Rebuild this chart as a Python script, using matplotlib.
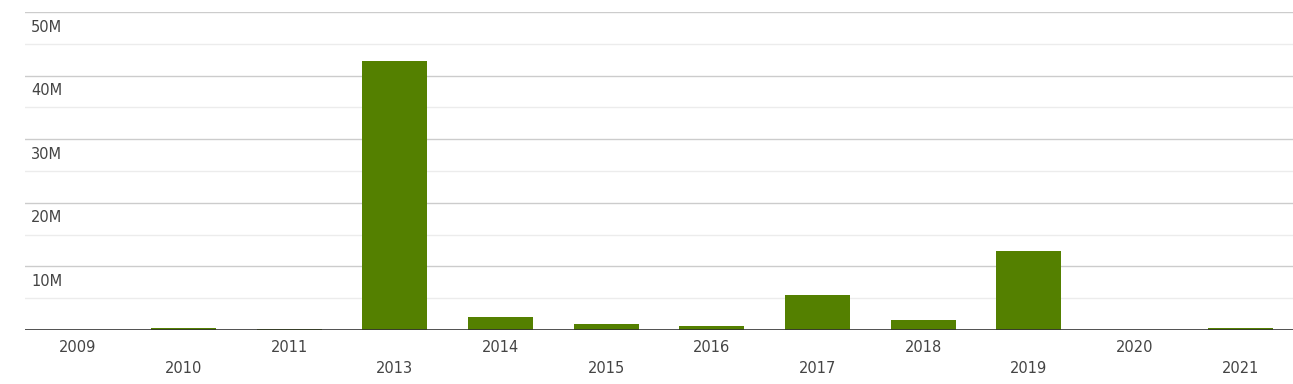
import matplotlib
matplotlib.use("Agg")
import matplotlib.pyplot as plt
import matplotlib.transforms as mtransforms

# Dados (valores em milhões)
anos = ["2009", "2010", "2011", "2013", "2014", "2015", "2016",
        "2017", "2018", "2019", "2020", "2021"]
valores = [0.0, 0.3, 0.12, 42.3, 2.0, 0.95, 0.65, 5.5, 1.55, 12.4, 0.0, 0.33]
ticks_y = [10, 20, 30, 40, 50]
labels_y = ["10M", "20M", "30M", "40M", "50M"]

COR_BARRA = "#548000"
COR_TEXTO = "#444444"

W, H = 1293, 384
fig = plt.figure(figsize=(W / 100, H / 100), dpi=100)
ax = fig.add_axes([25 / W, (H - 330) / H, (W - 25) / W, 318 / H])

x = list(range(len(anos)))
ax.bar(x, valores, width=0.615, color=COR_BARRA, zorder=3)

ax.set_xlim(-0.5, len(anos) - 0.5)
ax.set_ylim(0, 50)

# Grade: linhas principais a cada 10M, secundárias a cada 5M
for v in range(5, 51, 5):
    cor = "#cccccc" if v % 10 == 0 else "#ececec"
    ax.axhline(v, color=cor, linewidth=1, zorder=1)
ax.axhline(0, color="#333333", linewidth=1.2, zorder=4)

for s in ax.spines.values():
    s.set_visible(False)
ax.set_xticks([])
ax.set_yticks([])

# Rótulos do eixo y dentro da área do gráfico
trans_y = mtransforms.blended_transform_factory(ax.transAxes, ax.transData)
for v, lab in zip(ticks_y, labels_y):
    ax.text(6 / (W - 25), v - 1.2, lab, transform=trans_y, ha="left", va="top",
            fontsize=10.5, color=COR_TEXTO)

# Rótulos do eixo x alternados em duas linhas
trans_x = mtransforms.blended_transform_factory(ax.transData, ax.transAxes)
for i, ano in enumerate(anos):
    yy = -0.0566 if i % 2 == 0 else -0.1195
    ax.text(i, yy, ano, transform=trans_x, ha="center", va="center",
            fontsize=10.5, color=COR_TEXTO)

fig.savefig("out.png", dpi=100)
